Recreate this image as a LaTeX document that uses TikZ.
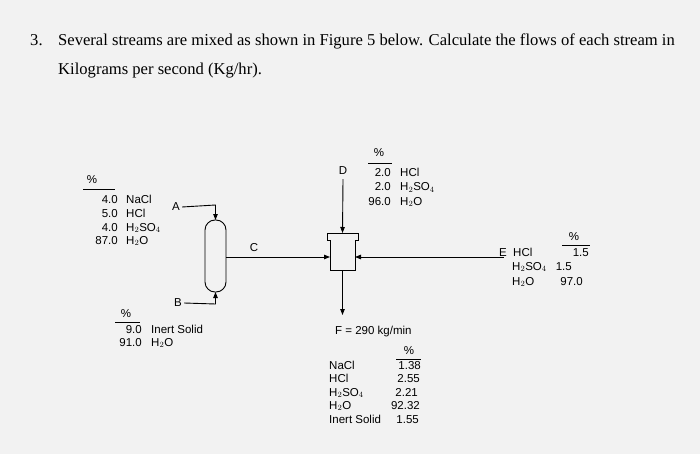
\documentclass[tikz,border=0pt]{standalone}
\usepackage{fontspec}
\setmainfont{Liberation Sans}
\newfontfamily\serif{Liberation Serif}
\usetikzlibrary{arrows.meta}
\begin{document}
\begin{tikzpicture}[x=1pt,y=-1pt,
  t/.style={inner sep=0pt,font=\fontsize{11.5}{13}\selectfont},
  tl/.style={t,anchor=base west},
  tr/.style={t,anchor=base east},
  ln/.style={line width=0.9pt},
  ar/.style={ln,-{Triangle[length=6pt,width=4.5pt]}},
  title/.style={inner sep=0pt,anchor=base west,font=\serif\fontsize{16.6}{19}\selectfont}]
\fill[gray!10] (0,0) rectangle (700,454);
\useasboundingbox (0,0) rectangle (700,454);
\node[title] (q0) at (30,46) {3.};
\node[title] (q1) at (58,46) {Several streams are mixed as shown in Figure 5 below. Calculate the flows of each stream in};
\node[title] (q2) at (58,75) {Kilograms per second (Kg/hr).};
% left composition A
\node[t,anchor=base] (pa) at (92,184) {\%};
\draw (83,189) -- (115,189);
\node[tr] (a1) at (118,204) {4.0}; \node[tl] (a1n) at (126,204) {NaCl};
\node[tr] (a2) at (118,217) {5.0}; \node[tl] (a2n) at (126,217) {HCl};
\node[tr] (a3) at (118,231) {4.0}; \node[tl] (a3n) at (126,231) {H$_2$SO$_4$};
\node[tr] (a4) at (118,244) {87.0}; \node[tl] (a4n) at (126,244) {H$_2$O};
% vessel
\draw[ln,rounded corners=10pt] (205,220) rectangle (226,292);
\coordinate (vt) at (215.5,220); \coordinate (vb) at (215.5,292); \coordinate (vr) at (226,257);
\node[t] (A) at (176,207) {A};
\coordinate (ac) at (215.5,205);
\draw[ar] (A.east) ++(2,0) -- (ac) -- (vt);
\node[t] (B) at (178,303) {B};
\coordinate (bc) at (215.5,304);
\draw[ar] (B.east) ++(2,0) -- (bc) -- (vb);
% mixer
\draw[ln] (330,270) -- (330,240) -- (327,240) -- (327,233) -- (358,233) -- (358,240) -- (355,240) -- (355,270) -- cycle;
\coordinate (ml) at (330,257); \coordinate (mr) at (355,257);
\coordinate (mt) at (342.5,233); \coordinate (mb) at (342.5,270);
\node[t] (C) at (254,248) {C};
\draw[ar] (vr) -- (ml);
\node[t] (D) at (343,171) {D};
\draw[ar] (D.south) ++(0,4) -- (mt);
\coordinate (ee) at (504,257);
\draw[ar] (ee) -- (mr);
\coordinate (fe) at (342.5,315);
\draw[ar] (mb) -- (fe);
% D composition
\node[t,anchor=base] (pd) at (379,157) {\%};
\draw (368,163) -- (392,163);
\node[tr] (d1) at (391,177) {2.0}; \node[tl] (d1n) at (400,177) {HCl};
\node[tr] (d2) at (391,191) {2.0}; \node[tl] (d2n) at (400,191) {H$_2$SO$_4$};
\node[tr] (d3) at (391,205) {96.0}; \node[tl] (d3n) at (400,205) {H$_2$O};
% E composition
\node[t,anchor=base] (pe) at (574,240) {\%};
\draw (562,245) -- (590,245);
\node[tl] (E) at (499,256) {E};
\node[tl] (e1n) at (513,256) {HCl}; \node[tr] (e1) at (589,256) {1.5};
\node[tl] (e2n) at (512,270) {H$_2$SO$_4$}; \node[tr] (e2) at (572,270) {1.5};
\node[tl] (e3n) at (512,285) {H$_2$O}; \node[tr] (e3) at (583,285) {97.0};
% B composition
\node[t,anchor=base] (pb) at (126,317) {\%};
\draw (115,322) -- (140,322);
\node[tr] (b1) at (142,333) {9.0}; \node[tl] (b1n) at (151,333) {Inert Solid};
\node[tr] (b2) at (142,346) {91.0}; \node[tl] (b2n) at (151,346) {H$_2$O};
% F
\node[tl] (F) at (335,334) {F = 290 kg/min};
\node[t,anchor=base] (pf) at (409,354) {\%};
\draw (396,359) -- (421,359);
\node[tl] (f1n) at (329,369) {NaCl}; \node[tr] (f1) at (421,369) {1.38};
\node[tl] (f2n) at (329,382) {HCl}; \node[tr] (f2) at (420,382) {2.55};
\node[tl] (f3n) at (329,396) {H$_2$SO$_4$}; \node[tr] (f3) at (418,396) {2.21};
\node[tl] (f4n) at (329,409) {H$_2$O}; \node[tr] (f4) at (420,409) {92.32};
\node[tl] (f5n) at (329,423) {Inert Solid}; \node[tr] (f5) at (419,423) {1.55};
\end{tikzpicture}
\end{document}
